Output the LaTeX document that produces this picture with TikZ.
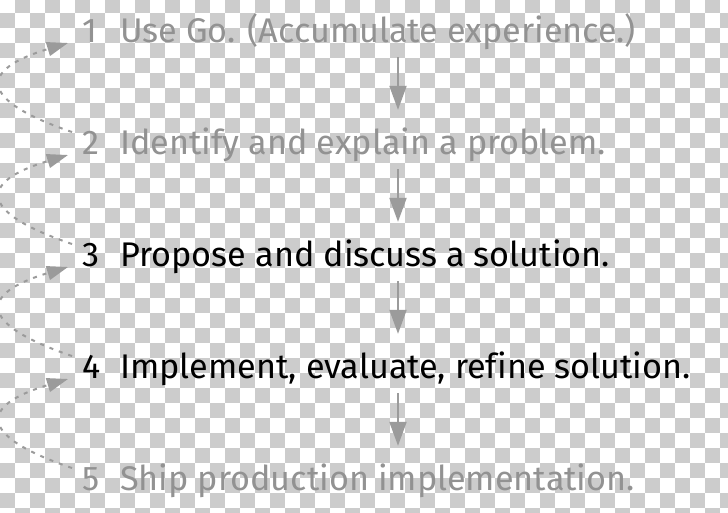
\documentclass[tikz,border=0pt]{standalone}
\usepackage{fontspec}
\setmainfont[Ligatures=NoCommon]{Fira Sans}
\usetikzlibrary{arrows.meta}
\definecolor{checkgray}{RGB}{204,204,204}
\definecolor{dimtext}{RGB}{146,146,146}
\definecolor{linegray}{RGB}{155,155,155}
\tikzset{
  every node/.style={font=\fontsize{34.2}{40}\selectfont, inner sep=0pt, text height=24pt, text depth=8pt},
  num/.style={anchor=base west},
  txt/.style={anchor=base west},
  dim/.style={text=dimtext},
  varrow/.style={draw=linegray, line width=2pt, -{Triangle[length=24pt,width=17pt]}, shorten <=7pt, shorten >=20pt},
  loop/.style={draw=linegray, line width=2pt, dash pattern=on 4pt off 6pt, -{Triangle[length=21pt,width=14pt]}}
}
\begin{document}
\begin{tikzpicture}[x=1pt,y=-1pt]
\useasboundingbox (0,0) rectangle (728,512);
% checkerboard background
\fill[white] (0,0) rectangle (728,512);
\begin{scope}
\clip (0,0) rectangle (728,512);
\foreach \r in {0,...,34}{
  \foreach \c in {0,...,48}{
    \pgfmathtruncatemacro{\myparity}{mod(\r+\c,2)}
    \ifnum\myparity=1
      \fill[checkgray] (15*\c,15*\r-2) rectangle (15*\c+15,15*\r+13);
    \fi
  }
}
\end{scope}
% lines
\node[num,dim] (n1) at (82,42) {1};
\node[txt,dim] (t1) at (120,42) {Use Go. (Accumulate experience.)};
\node[num,dim] (n2) at (82,154) {2};
\node[txt,dim] (t2) at (120,154) {Identify and explain a problem.};
\node[num] (n3) at (82,266) {3};
\node[txt] (t3) at (120,266) {Propose and discuss a solution.};
\node[num] (n4) at (82,378) {4};
\node[txt] (t4) at (120,378) {Implement, evaluate, refine solution.};
\node[num,dim] (n5) at (82,490) {5};
\node[txt,dim] (t5) at (120,490) {Ship production implementation.};
% vertical arrows
\coordinate (ax) at (398,0);
\draw[varrow] (t1.south -| ax) -- (t2.north -| ax);
\draw[varrow] (t2.south -| ax) -- (t3.north -| ax);
\draw[varrow] (t3.south -| ax) -- (t4.north -| ax);
\draw[varrow] (t4.south -| ax) -- (t5.north -| ax);
% loop-back ends
\foreach \k in {1,...,5}{
  \coordinate (h\k) at ([shift={(-14,1)}]n\k.base west);
  \coordinate (s\k) at ([shift={(-10,-22)}]n\k.base west);
}
\draw[loop] (s2) .. controls +(-94,-32) and +(-90,27) .. (h1);
\draw[loop] (s3) .. controls +(-94,-32) and +(-90,27) .. (h2);
\draw[loop] (s4) .. controls +(-94,-32) and +(-90,27) .. (h3);
\draw[loop] (s5) .. controls +(-94,-32) and +(-90,27) .. (h4);
\end{tikzpicture}
\end{document}
